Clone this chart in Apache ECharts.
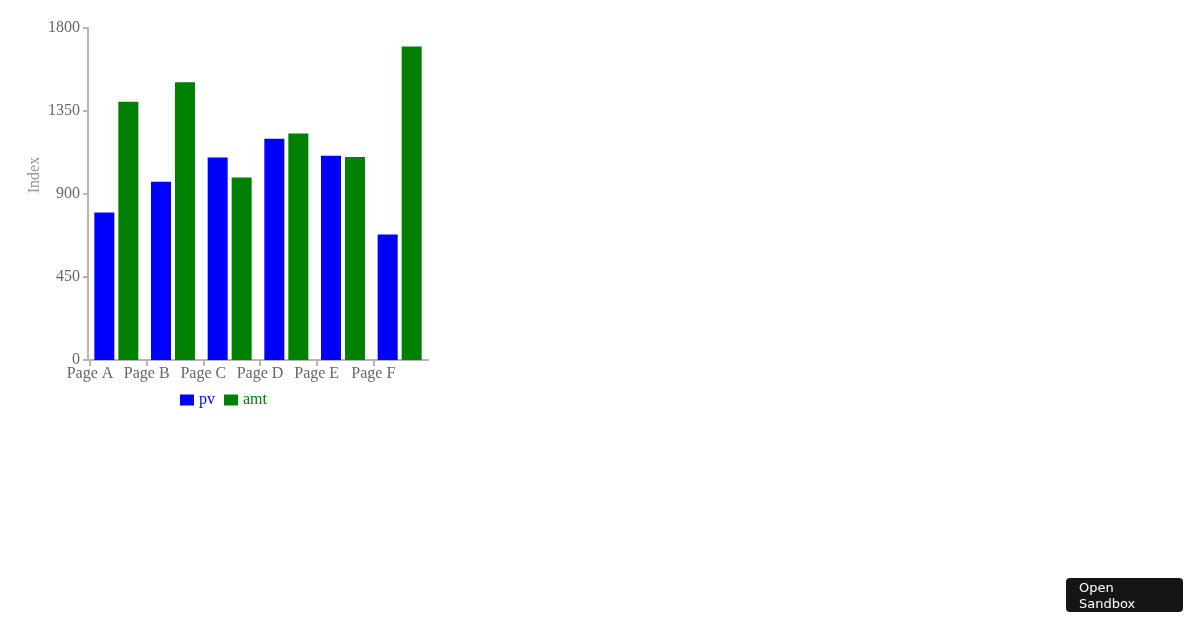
<!DOCTYPE html>
<html>
<head>
<meta charset="utf-8">
<script src="https://cdn.jsdelivr.net/npm/echarts@6/dist/echarts.min.js"></script>
<style>
  html, body { margin: 0; padding: 0; background: #fff; }
  #chart { width: 1200px; height: 630px; }
  #sandbox {
    position: absolute; left: 1066px; top: 578px; width: 104px; height: 32px;
    padding: 2px 0 0 13px; background: #151515; border-radius: 4px; color: #fff;
    font-family: "DejaVu Sans", sans-serif; font-size: 13px; line-height: 16px;
    box-sizing: content-box;
  }
</style>
</head>
<body>
<div id="chart"></div>
<div id="sandbox">Open<br>Sandbox</div>
<script>
const categories = ['Page A', 'Page B', 'Page C', 'Page D', 'Page E', 'Page F'];
const tickLabels = ['Page A', 'Page B', 'Page C', 'Page D', 'Page E', 'Page F', ''];
const pvValues = [800, 967, 1098, 1200, 1108, 680];
const amtValues = [1400, 1506, 989, 1228, 1100, 1700];
const yTicks = [0, 450, 900, 1350, 1800];

const font = '"Liberation Serif", "Times New Roman", serif';
const axisColor = '#b5b5b5';
const chart = echarts.init(document.getElementById('chart'));
chart.setOption({
  animation: false,
  grid: [
    { left: 88, top: 28, width: 340, height: 332, containLabel: false },
    { left: 90, top: 28, width: 340, height: 332, containLabel: false }
  ],
  legend: {
    left: 175, top: 387,
    itemWidth: 14, itemHeight: 11, itemGap: 9,
    icon: 'rect',
    textStyle: { fontFamily: font, fontSize: 16 },
    data: [
      { name: 'pv', textStyle: { color: '#0000ff' } },
      { name: 'amt', textStyle: { color: '#008000' } }
    ]
  },
  xAxis: [
    {
      type: 'category', gridIndex: 0, data: categories, boundaryGap: true,
      axisLine: { lineStyle: { color: axisColor, width: 2 } },
      axisTick: { show: false }, axisLabel: { show: false }
    },
    {
      type: 'category', gridIndex: 1, data: tickLabels, boundaryGap: false,
      axisLine: { show: false },
      axisTick: { show: true, length: 6, lineStyle: { color: axisColor, width: 2 },
        interval: function (index) { return index < categories.length; } },
      axisLabel: { show: true, interval: 0, color: '#666', fontFamily: font, fontSize: 16, margin: 6 }
    }
  ],
  yAxis: [
    {
      type: 'value', gridIndex: 0, min: yTicks[0], max: yTicks[yTicks.length - 1],
      interval: yTicks[1] - yTicks[0],
      name: 'Index', nameLocation: 'middle', nameGap: 45,
      nameTextStyle: { color: '#999', fontFamily: font, fontSize: 16, padding: [0, 0, 0, 38] },
      axisLine: { show: true, lineStyle: { color: axisColor, width: 2 } },
      axisTick: { show: true, length: 5, lineStyle: { color: axisColor, width: 2 } },
      axisLabel: { color: '#666', fontFamily: font, fontSize: 16, margin: 8,
        formatter: function (v) { return String(v); } },
      splitLine: { show: false }
    },
    {
      type: 'value', gridIndex: 1, min: 0, max: 1800, show: false
    }
  ],
  series: [
    { name: 'pv', type: 'bar', xAxisIndex: 0, yAxisIndex: 0, data: pvValues,
      barWidth: 20, barGap: '20%', itemStyle: { color: '#0000ff' } },
    { name: 'amt', type: 'bar', xAxisIndex: 0, yAxisIndex: 0, data: amtValues,
      barWidth: 20, barGap: '20%', itemStyle: { color: '#008000' } }
  ]
});
</script>
</body>
</html>
